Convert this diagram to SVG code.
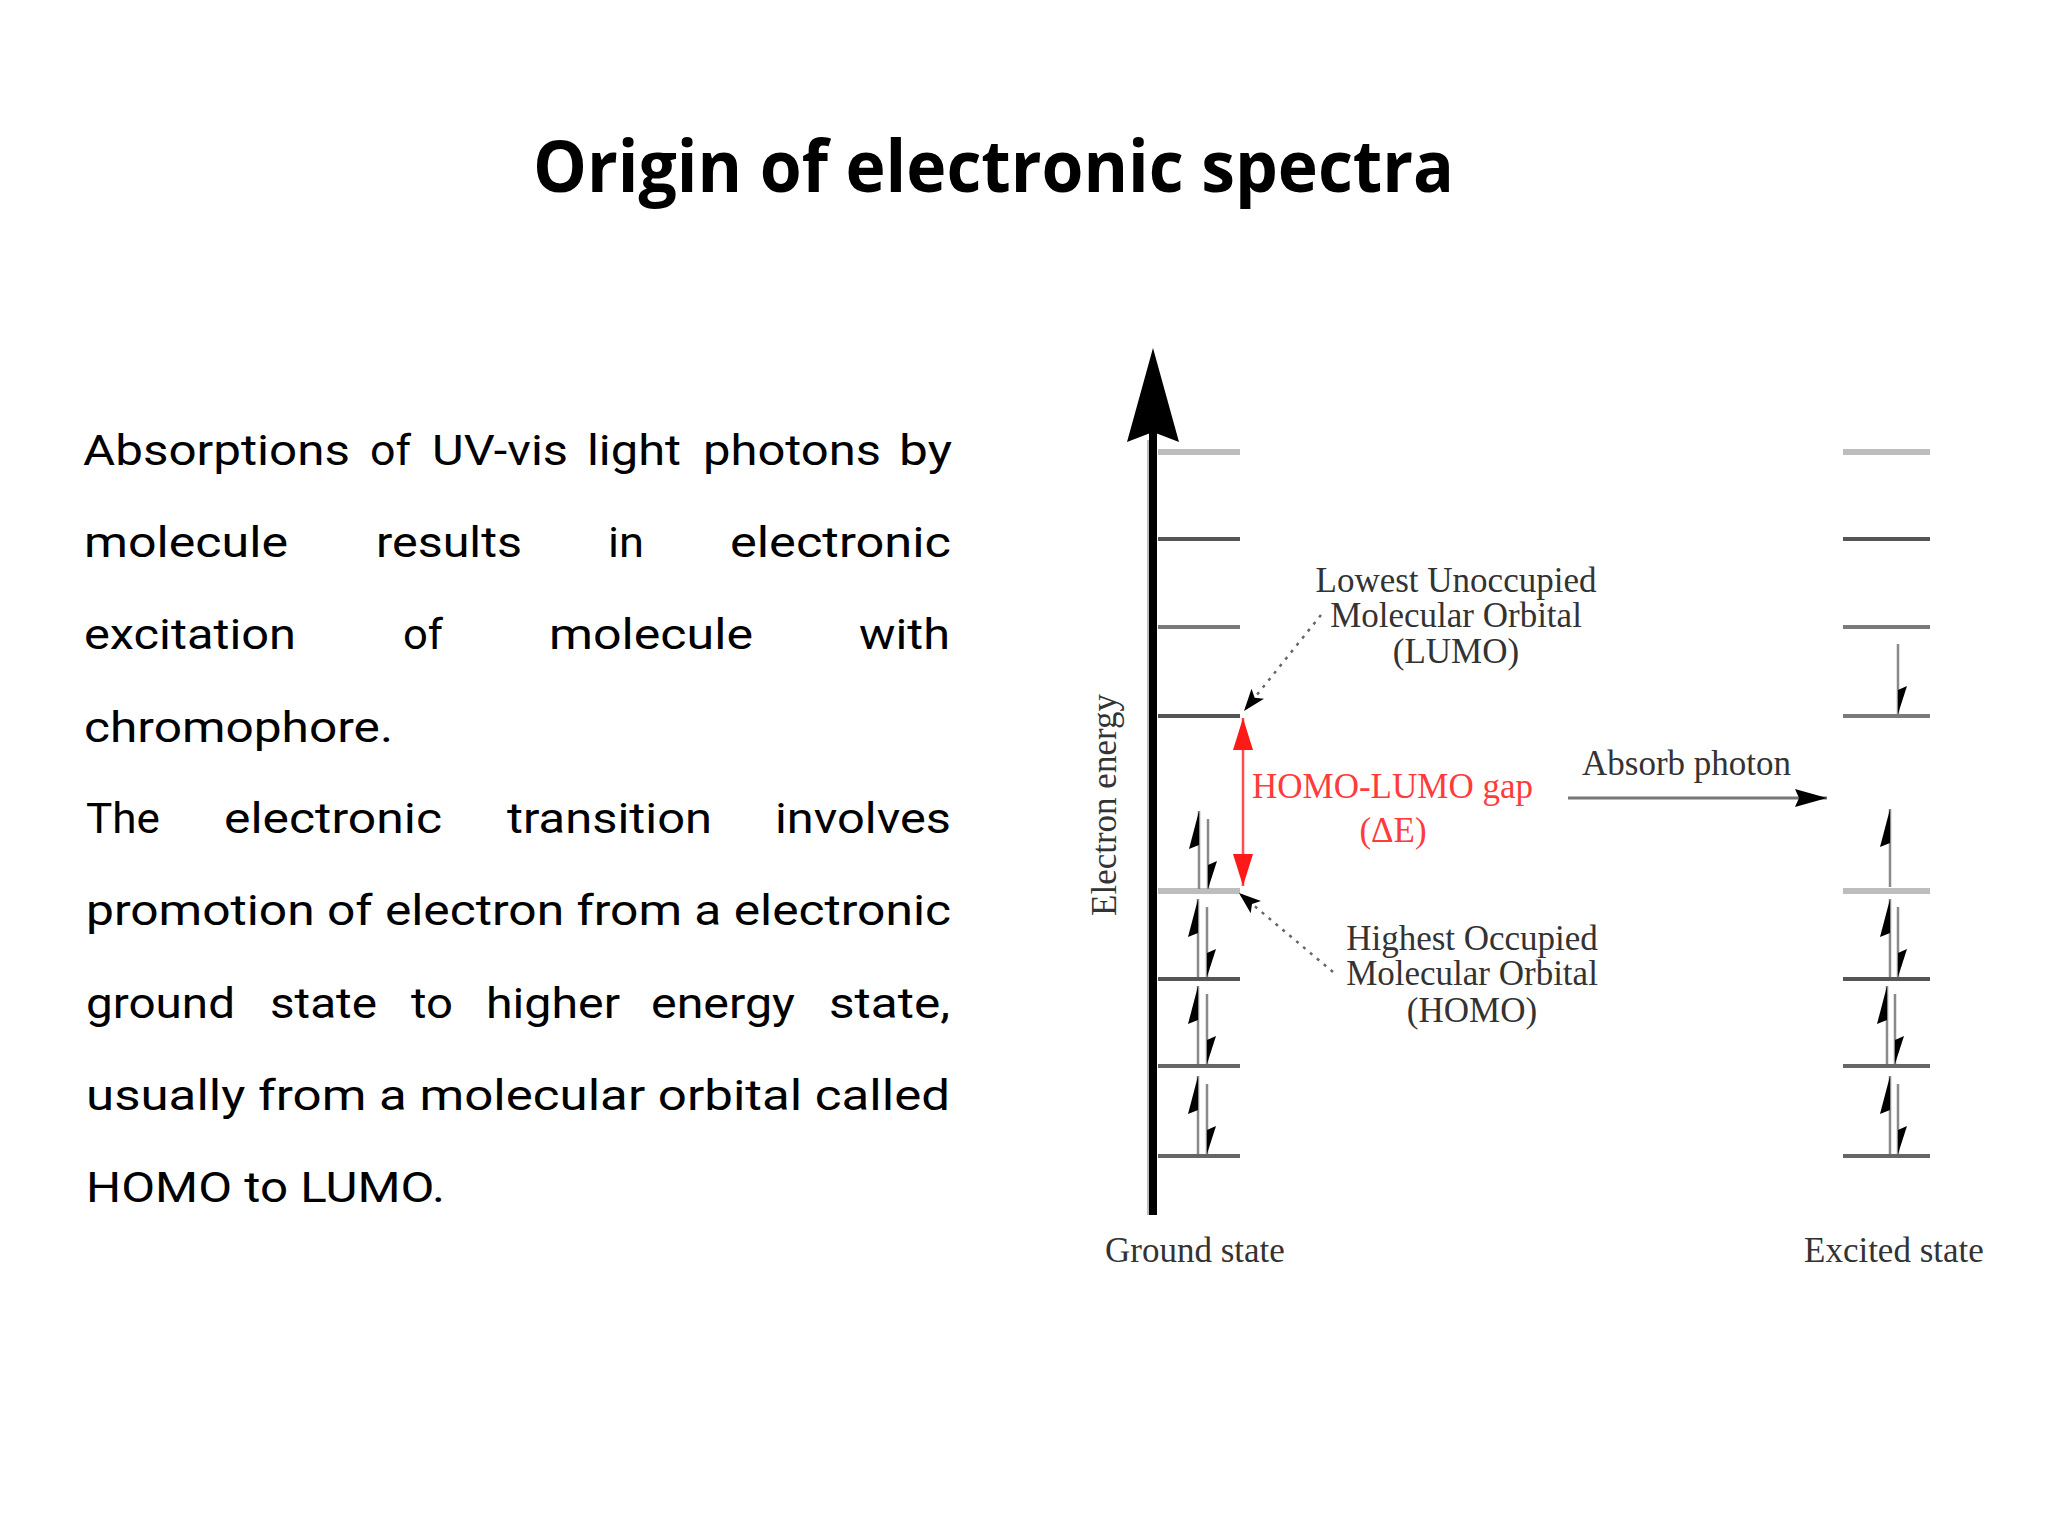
<svg xmlns="http://www.w3.org/2000/svg" width="2048" height="1536" viewBox="0 0 2048 1536">
<style>
.title{font-family:"Open Sans","Noto Sans","Liberation Sans",sans-serif;font-weight:bold;font-size:72px;fill:#000}
.body{font-family:Roboto,"Liberation Sans",sans-serif;font-size:42px;fill:#000}
.lbl{font-family:"Liberation Serif","DejaVu Serif",serif;font-size:35px;fill:#333}
.red{font-family:"Liberation Serif","DejaVu Serif",serif;font-size:35px;fill:#ff3b3b}
.lvl{stroke-width:4;fill:none}
.l1{stroke:#bdbdbd;stroke-width:6}
.l2{stroke:#555}
.l3{stroke:#7a7a7a}
.l4{stroke:#666}
.eline{stroke:#8a8a8a;stroke-width:2.5;fill:none}
.barb{fill:#000}
</style>
<defs>
<marker id="redHead" markerUnits="userSpaceOnUse" markerWidth="34" markerHeight="22" refX="32" refY="11" orient="auto-start-reverse" viewBox="0 0 34 22">
<path d="M0,1 L32,11 L0,21 Z" fill="#ff1a1a"/>
</marker>
<marker id="blkHead" markerUnits="userSpaceOnUse" markerWidth="24" markerHeight="18" refX="22" refY="9" orient="auto" viewBox="0 0 24 18">
<path d="M0,1 L22,9 L0,17 L5,9 Z" fill="#000"/>
</marker>
<marker id="absHead" markerUnits="userSpaceOnUse" markerWidth="34" markerHeight="22" refX="32" refY="11" orient="auto" viewBox="0 0 34 22">
<path d="M0,2 L32,11 L0,20 L4,11 Z" fill="#000"/>
</marker>
<g id="up">
<line class="eline" x1="0" y1="-2" x2="0" y2="-80"/>
<polygon class="barb" points="0,-80 -10,-42 0,-46"/>
</g>
<g id="down">
<line class="eline" x1="0" y1="-72" x2="0" y2="-2"/>
<polygon class="barb" points="0,-2 9,-30 0,-26"/>
</g>
</defs>
<rect width="2048" height="1536" fill="#fff"/>

<g id="title">
<text class="title" x="533" y="192" textLength="921" lengthAdjust="spacingAndGlyphs">Origin of electronic spectra</text>
</g>

<g id="body-text" class="body">
<text x="83" y="465" textLength="267" lengthAdjust="spacingAndGlyphs">Absorptions</text>
<text x="370" y="465" textLength="41" lengthAdjust="spacingAndGlyphs">of</text>
<text x="432" y="465" textLength="136" lengthAdjust="spacingAndGlyphs">UV-vis</text>
<text x="587" y="465" textLength="94" lengthAdjust="spacingAndGlyphs">light</text>
<text x="703" y="465" textLength="178" lengthAdjust="spacingAndGlyphs">photons</text>
<text x="899" y="465" textLength="53" lengthAdjust="spacingAndGlyphs">by</text>

<text x="84" y="557" textLength="204" lengthAdjust="spacingAndGlyphs">molecule</text>
<text x="376" y="557" textLength="146" lengthAdjust="spacingAndGlyphs">results</text>
<text x="608" y="557" textLength="36" lengthAdjust="spacingAndGlyphs">in</text>
<text x="730" y="557" textLength="221" lengthAdjust="spacingAndGlyphs">electronic</text>

<text x="84" y="649" textLength="212" lengthAdjust="spacingAndGlyphs">excitation</text>
<text x="403" y="649" textLength="40" lengthAdjust="spacingAndGlyphs">of</text>
<text x="549" y="649" textLength="204" lengthAdjust="spacingAndGlyphs">molecule</text>
<text x="859" y="649" textLength="91" lengthAdjust="spacingAndGlyphs">with</text>

<text x="84" y="742" textLength="309" lengthAdjust="spacingAndGlyphs">chromophore.</text>

<text x="86" y="833" textLength="74" lengthAdjust="spacingAndGlyphs">The</text>
<text x="224" y="833" textLength="218" lengthAdjust="spacingAndGlyphs">electronic</text>
<text x="507" y="833" textLength="205" lengthAdjust="spacingAndGlyphs">transition</text>
<text x="775" y="833" textLength="176" lengthAdjust="spacingAndGlyphs">involves</text>

<text x="86" y="925" textLength="865" lengthAdjust="spacingAndGlyphs">promotion of electron from a electronic</text>

<text x="86" y="1018" textLength="149" lengthAdjust="spacingAndGlyphs">ground</text>
<text x="270" y="1018" textLength="107" lengthAdjust="spacingAndGlyphs">state</text>
<text x="411" y="1018" textLength="42" lengthAdjust="spacingAndGlyphs">to</text>
<text x="486" y="1018" textLength="134" lengthAdjust="spacingAndGlyphs">higher</text>
<text x="651" y="1018" textLength="144" lengthAdjust="spacingAndGlyphs">energy</text>
<text x="829" y="1018" textLength="121" lengthAdjust="spacingAndGlyphs">state,</text>

<text x="86" y="1110" textLength="864" lengthAdjust="spacingAndGlyphs">usually from a molecular orbital called</text>

<text x="86" y="1202" textLength="359" lengthAdjust="spacingAndGlyphs">HOMO to LUMO.</text>
</g>

<g id="energy-axis">
<line x1="1153" y1="430" x2="1153" y2="1215" stroke="#000" stroke-width="8"/>
<line x1="1148" y1="440" x2="1148" y2="1215" stroke="#bbb" stroke-width="2"/>
<polygon points="1153,348 1179,442 1153,432 1127,442" fill="#000"/>
<text class="lbl" transform="translate(1116,805) rotate(-90)" text-anchor="middle">Electron energy</text>
</g>

<g id="ground-state">
<line class="lvl l1" x1="1158" y1="452" x2="1240" y2="452"/>
<line class="lvl l2" x1="1158" y1="539" x2="1240" y2="539"/>
<line class="lvl l3" x1="1158" y1="627" x2="1240" y2="627"/>
<line class="lvl l2" x1="1158" y1="716" x2="1240" y2="716"/>
<line class="lvl l1" x1="1158" y1="891" x2="1240" y2="891"/>
<line class="lvl l2" x1="1158" y1="979" x2="1240" y2="979"/>
<line class="lvl l4" x1="1158" y1="1066" x2="1240" y2="1066"/>
<line class="lvl l4" x1="1158" y1="1156" x2="1240" y2="1156"/>
<use href="#up" x="1199" y="891"/>
<use href="#down" x="1208" y="891"/>
<use href="#up" x="1198" y="979"/>
<use href="#down" x="1207" y="979"/>
<use href="#up" x="1198" y="1066"/>
<use href="#down" x="1207" y="1066"/>
<use href="#up" x="1198" y="1156"/>
<use href="#down" x="1207" y="1156"/>
<text class="lbl" x="1105" y="1262">Ground state</text>
</g>

<g id="excited-state">
<line class="lvl l1" x1="1843" y1="452" x2="1930" y2="452"/>
<line class="lvl l2" x1="1843" y1="539" x2="1930" y2="539"/>
<line class="lvl l3" x1="1843" y1="627" x2="1930" y2="627"/>
<line class="lvl l3" x1="1843" y1="716" x2="1930" y2="716"/>
<line class="lvl l1" x1="1843" y1="891" x2="1930" y2="891"/>
<line class="lvl l2" x1="1843" y1="979" x2="1930" y2="979"/>
<line class="lvl l4" x1="1843" y1="1066" x2="1930" y2="1066"/>
<line class="lvl l4" x1="1843" y1="1156" x2="1930" y2="1156"/>
<use href="#down" x="1898" y="716"/>
<use href="#up" x="1890" y="889"/>
<use href="#up" x="1890" y="979"/>
<use href="#down" x="1898" y="979"/>
<use href="#up" x="1887" y="1066"/>
<use href="#down" x="1895" y="1066"/>
<use href="#up" x="1890" y="1156"/>
<use href="#down" x="1898" y="1156"/>
<text class="lbl" x="1804" y="1262">Excited state</text>
</g>

<g id="lumo-label">
<text class="lbl" text-anchor="middle" x="1456" y="592">Lowest Unoccupied</text>
<text class="lbl" text-anchor="middle" x="1456" y="627">Molecular Orbital</text>
<text class="lbl" text-anchor="middle" x="1456" y="663">(LUMO)</text>
</g>

<g id="homo-label">
<text class="lbl" text-anchor="middle" x="1472" y="950">Highest Occupied</text>
<text class="lbl" text-anchor="middle" x="1472" y="985">Molecular Orbital</text>
<text class="lbl" text-anchor="middle" x="1472" y="1022">(HOMO)</text>
</g>

<g id="gap-label">
<text class="red" x="1252" y="798">HOMO-LUMO gap</text>
<text class="red" text-anchor="middle" x="1393" y="842">(ΔE)</text>
</g>

<g id="absorb-label">
<text class="lbl" x="1582" y="775">Absorb photon</text>
</g>

<g id="connectors">
<line x1="1243" y1="718" x2="1243" y2="886" stroke="#ff4d4d" stroke-width="2.5" marker-start="url(#redHead)" marker-end="url(#redHead)"/>
<line x1="1321" y1="615" x2="1244" y2="711" stroke="#666" stroke-width="2.5" stroke-dasharray="3,6" marker-end="url(#blkHead)"/>
<line x1="1333" y1="972" x2="1239" y2="893" stroke="#666" stroke-width="2.5" stroke-dasharray="3,6" marker-end="url(#blkHead)"/>
<line x1="1568" y1="798" x2="1827" y2="798" stroke="#777" stroke-width="3" marker-end="url(#absHead)"/>
</g>
</svg>
